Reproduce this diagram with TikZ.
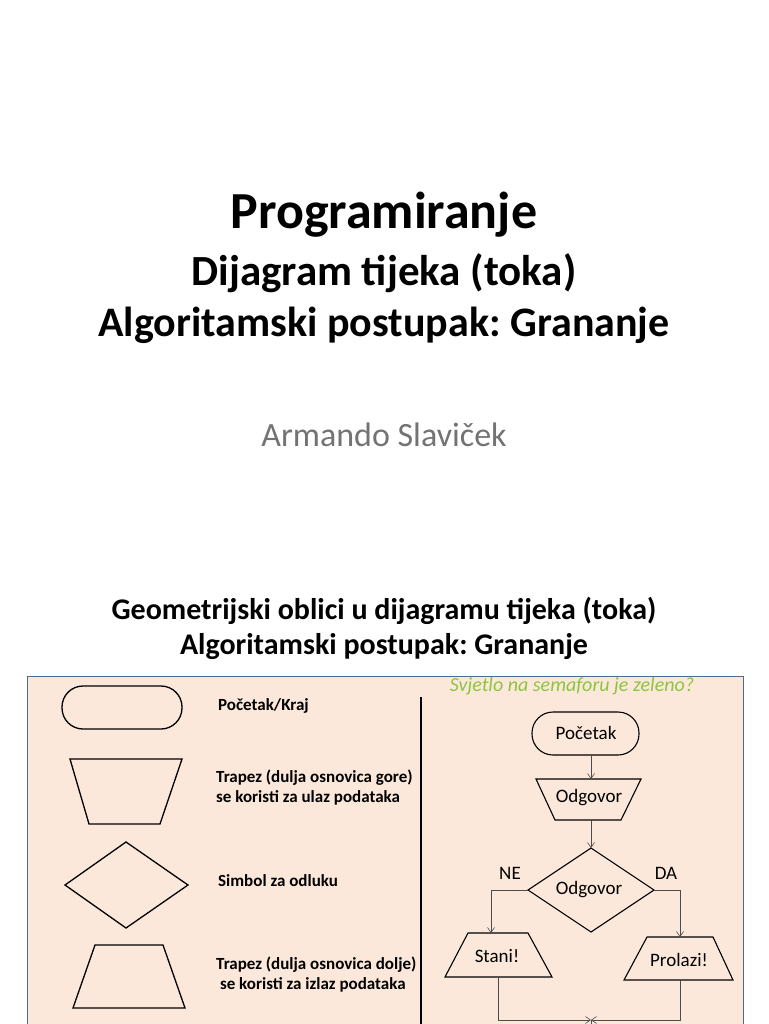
\documentclass[tikz,border=0pt]{standalone}
\usepackage{fontspec}
\setmainfont{Carlito}
\usetikzlibrary{arrows.meta}
\definecolor{peach}{HTML}{FCE8DA}
\definecolor{frame}{HTML}{4F6B8F}
\definecolor{lgreen}{HTML}{8CC63F}
\tikzset{
  shp/.style={draw=black, line width=1.3pt, fill=none},
  lbl/.style={anchor=west, font=\bfseries\fontsize{17}{20}\selectfont, align=left, inner sep=0},
  ftxt/.style={font=\fontsize{19}{22}\selectfont, inner sep=0},
  conn/.style={draw=black!70, line width=0.6pt},
  arr/.style={conn, -{Straight Barb[length=5pt,width=7pt]}}
}
\begin{document}
\frenchspacing
\begin{tikzpicture}[x=1pt,y=-1pt]
\useasboundingbox (0,0) rectangle (768,1024);
\fill[white] (0,0) rectangle (768,1024);
% titles
\node[font=\bfseries\fontsize{52}{60}\selectfont] (t1) at (384,215) {Programiranje};
\node[font=\bfseries\fontsize{43}{50}\selectfont] (t2) at (384,273) {Dijagram tijeka (toka)};
\node[font=\bfseries\fontsize{42}{50}\selectfont] (t3) at (384,325) {Algoritamski postupak: Grananje};
\node[font=\fontsize{34}{40}\selectfont, text=black!55] (au) at (384,435) {Armando Slaviček};
\node[font=\bfseries\fontsize{30}{36}\selectfont] (g1) at (384,611) {Geometrijski oblici u dijagramu tijeka (toka)};
\node[font=\bfseries\fontsize{30}{36}\selectfont] (g2) at (384,647) {Algoritamski postupak: Grananje};
% panel
\fill[peach] (27,676) rectangle (743,1024);
\draw[frame, line width=1pt] (27,1024) -- (27,676) -- (743,676) -- (743,1024);
\draw[black, line width=2.5pt] (421,697) -- (421,1024);
% legend shapes
\draw[shp, rounded corners=21pt] (62,686) rectangle (182,729);
\draw[shp] (70,759) -- (182,759) -- (160,824) -- (89,824) -- cycle;
\draw[shp] (65,885) -- (126,842) -- (188,885) -- (126,928) -- cycle;
\draw[shp] (95,945) -- (163,945) -- (185,1008) -- (73,1008) -- cycle;
\node[lbl] (l1) at (218,706) {Početak/Kraj};
\node[lbl] (l2) at (216,788) {Trapez (dulja osnovica gore)\\se koristi za ulaz podataka};
\node[lbl] (l3) at (218,881) {Simbol za odluku};
\node[lbl] (l4) at (216,975) {Trapez (dulja osnovica dolje)\\\ se koristi za izlaz podataka};
% flowchart
\node[font=\itshape\fontsize{20}{24}\selectfont, text=lgreen] (q) at (572,686) {Svjetlo na semaforu je zeleno?};
\draw[shp, line width=1.1pt, rounded corners=21pt] (532,712) rectangle (639,755);
\node[ftxt] (poc) at (586,733) {Početak};
\coordinate (pocb) at (591,755);
\draw[shp, line width=1.1pt] (536,779) -- (641,779) -- (621,820) -- (555,820) -- cycle;
\node[ftxt] (odg) at (589,798) {Odgovor};
\coordinate (odgt) at (591,779);
\coordinate (odgb) at (591,820);
\draw[shp, line width=1.1pt] (528,890) -- (591,848) -- (654,890) -- (591,932) -- cycle;
\node[ftxt] (dec) at (589,890) {Odgovor};
\coordinate (dect) at (591,848);
\coordinate (decl) at (528,890);
\coordinate (decr) at (654,890);
\node[ftxt] (ne) at (510,873) {NE};
\node[ftxt] (da) at (666,873) {DA};
\draw[shp, line width=1.1pt] (468,933) -- (528,933) -- (552,977) -- (445,977) -- cycle;
\node[ftxt] (st) at (497,956) {Stani!};
\draw[shp, line width=1.1pt] (647,937) -- (713,937) -- (733,980) -- (624,980) -- cycle;
\node[ftxt] (pr) at (679,960) {Prolazi!};
\coordinate (stt) at (491,933);
\coordinate (prt) at (680,937);
\coordinate (stb) at (498,977);
\coordinate (prb) at (680,980);
\coordinate (join) at (591,1020);
\draw[arr] (pocb) -- (odgt);
\draw[arr] (odgb) -- (dect);
\draw[arr] (decl) -| (stt);
\draw[arr] (decr) -| (prt);
\draw[arr] (stb) |- (join);
\draw[arr] (prb) |- (join);
\draw[conn] (join) -- (591,1024);
\end{tikzpicture}
\end{document}
